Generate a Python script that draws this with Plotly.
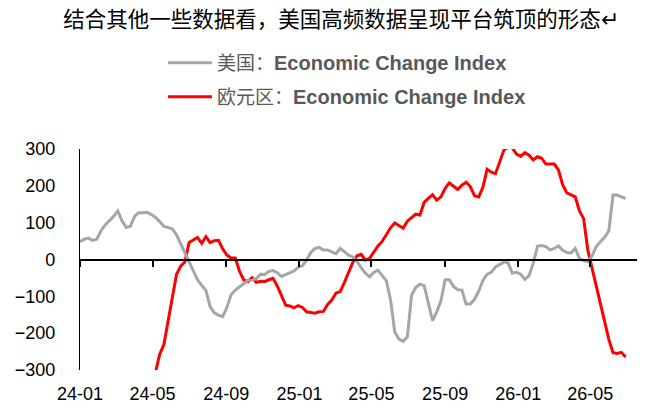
import plotly.graph_objects as go
import pandas as pd

# Weekly observation dates (Mondays), 2024-01-01 .. 2026-06-29
weeks = pd.date_range("2024-01-01", "2026-06-29", freq="W-MON")

us_name = "美国：<span style='font-size:20px'><b>Economic Change Index</b></span>"
ez_name = "欧元区：<span style='font-size:20px'><b>Economic Change Index</b></span>"

us_values = [
    48, 55, 58, 52, 55, 78, 94, 106, 117, 132,
    105, 87, 90, 117, 127, 127, 128, 122, 114, 103,
    90, 87, 83, 67, 42, 21, -5, -33, -55, -70,
    -84, -128, -145, -151, -155, -130, -96, -83, -75, -66,
    -57, -56, -52, -40, -41, -32, -30, -36, -46, -41,
    -36, -31, -21, -17, -1, 19, 30, 33, 26, 26,
    21, 16, 30, 20, 12, 7, -5, -22, -37, -47,
    -35, -29, -43, -58, -110, -197, -216, -222, -210, -97,
    -76, -67, -71, -118, -166, -142, -112, -55, -55, -73,
    -82, -83, -121, -121, -108, -86, -57, -40, -35, -20,
    -13, -7, -9, -37, -35, -40, -54, -44, -10, 36,
    38, 35, 26, 30, 37, 25, 19, 18, 30, 3,
    -3, -6, 10, 35, 48, 60, 78, 175, 175, 171, 165,
]

ez_first_week = 18
ez_values = [
    -305, -257,
    -230, -165, -106, -40, -18, -6, 46, 53, 60, 44,
    62, 46, 51, 52, 29, 12, 4, 4, -32, -55,
    -60, -49, -62, -59, -60, -55, -51, -72, -99, -124,
    -126, -131, -125, -130, -142, -143, -146, -142, -141, -122,
    -110, -91, -87, -62, -36, -8, 10, 14, -2, 3,
    20, 37, 49, 66, 86, 99, 92, 85, 104, 113,
    123, 121, 155, 166, 176, 161, 170, 193, 208, 199,
    190, 202, 210, 198, 173, 170, 196, 245, 237, 233,
    265, 297, 305, 303, 286, 280, 290, 283, 270, 279,
    275, 259, 259, 259, 243, 203, 181, 175, 170, 132,
    111, 25, -23, -75, -117, -170, -217, -253, -255, -252, -265,
]
ez_weeks = weeks[ez_first_week:]

title_text = "结合其他一些数据看，美国高频数据呈现平台筑顶的形态↵"
y_ticks = [-300, -200, -100, 0, 100, 200, 300]
x_range = ["2024-01-01", "2026-07-18"]

fig = go.Figure()
fig.add_trace(go.Scatter(x=weeks, y=us_values, mode="lines", name=us_name,
                         line=dict(color="#A6A6A6", width=3), legend="legend",
                         xaxis="x2"))
fig.add_trace(go.Scatter(x=ez_weeks, y=ez_values, mode="lines", name=ez_name,
                         line=dict(color="#FF0000", width=3), legend="legend2"))

tick_font = dict(family="Liberation Sans, Arial, sans-serif", size=18, color="#000000")
legend_font = dict(family="Liberation Sans, Arial, Noto Sans CJK SC", size=19, color="#595959")

fig.update_layout(
    width=651, height=416,
    margin=dict(l=80, r=14, t=149, b=46),
    paper_bgcolor="white", plot_bgcolor="white",
    title=dict(text=title_text, x=0.524, xanchor="center", y=0.952, yanchor="middle",
               font=dict(family="Noto Sans CJK SC", size=21.5, color="#000000")),
    xaxis=dict(type="date", range=x_range, tick0="2024-01-01", dtick="M4",
               tickformat="%y-%m", showgrid=False, zeroline=False, showline=False,
               ticks="", tickfont=tick_font, ticklabelstandoff=11),
    xaxis2=dict(type="date", range=x_range, tick0="2024-01-01", dtick="M4",
                overlaying="x", anchor="free", position=0.5, side="bottom",
                showgrid=False, zeroline=False, showline=True, linecolor="#000000",
                linewidth=2, ticks="outside", ticklen=6, tickwidth=2,
                tickcolor="#000000", showticklabels=False),
    yaxis=dict(range=[-300, 300], tickvals=y_ticks, showgrid=False, zeroline=False,
               showline=True, linecolor="#000000", linewidth=1.3, ticks="",
               tickfont=tick_font, ticklabelstandoff=20),
    legend=dict(x=(163 - 80) / 557, y=(370 - 63) / 221, xanchor="left", yanchor="middle",
                font=legend_font, bgcolor="rgba(0,0,0,0)", itemwidth=44),
    legend2=dict(x=(163 - 80) / 557, y=(370 - 97) / 221, xanchor="left", yanchor="middle",
                 font=legend_font, bgcolor="rgba(0,0,0,0)", itemwidth=44),
    showlegend=True,
)

fig.write_html("out.html")
